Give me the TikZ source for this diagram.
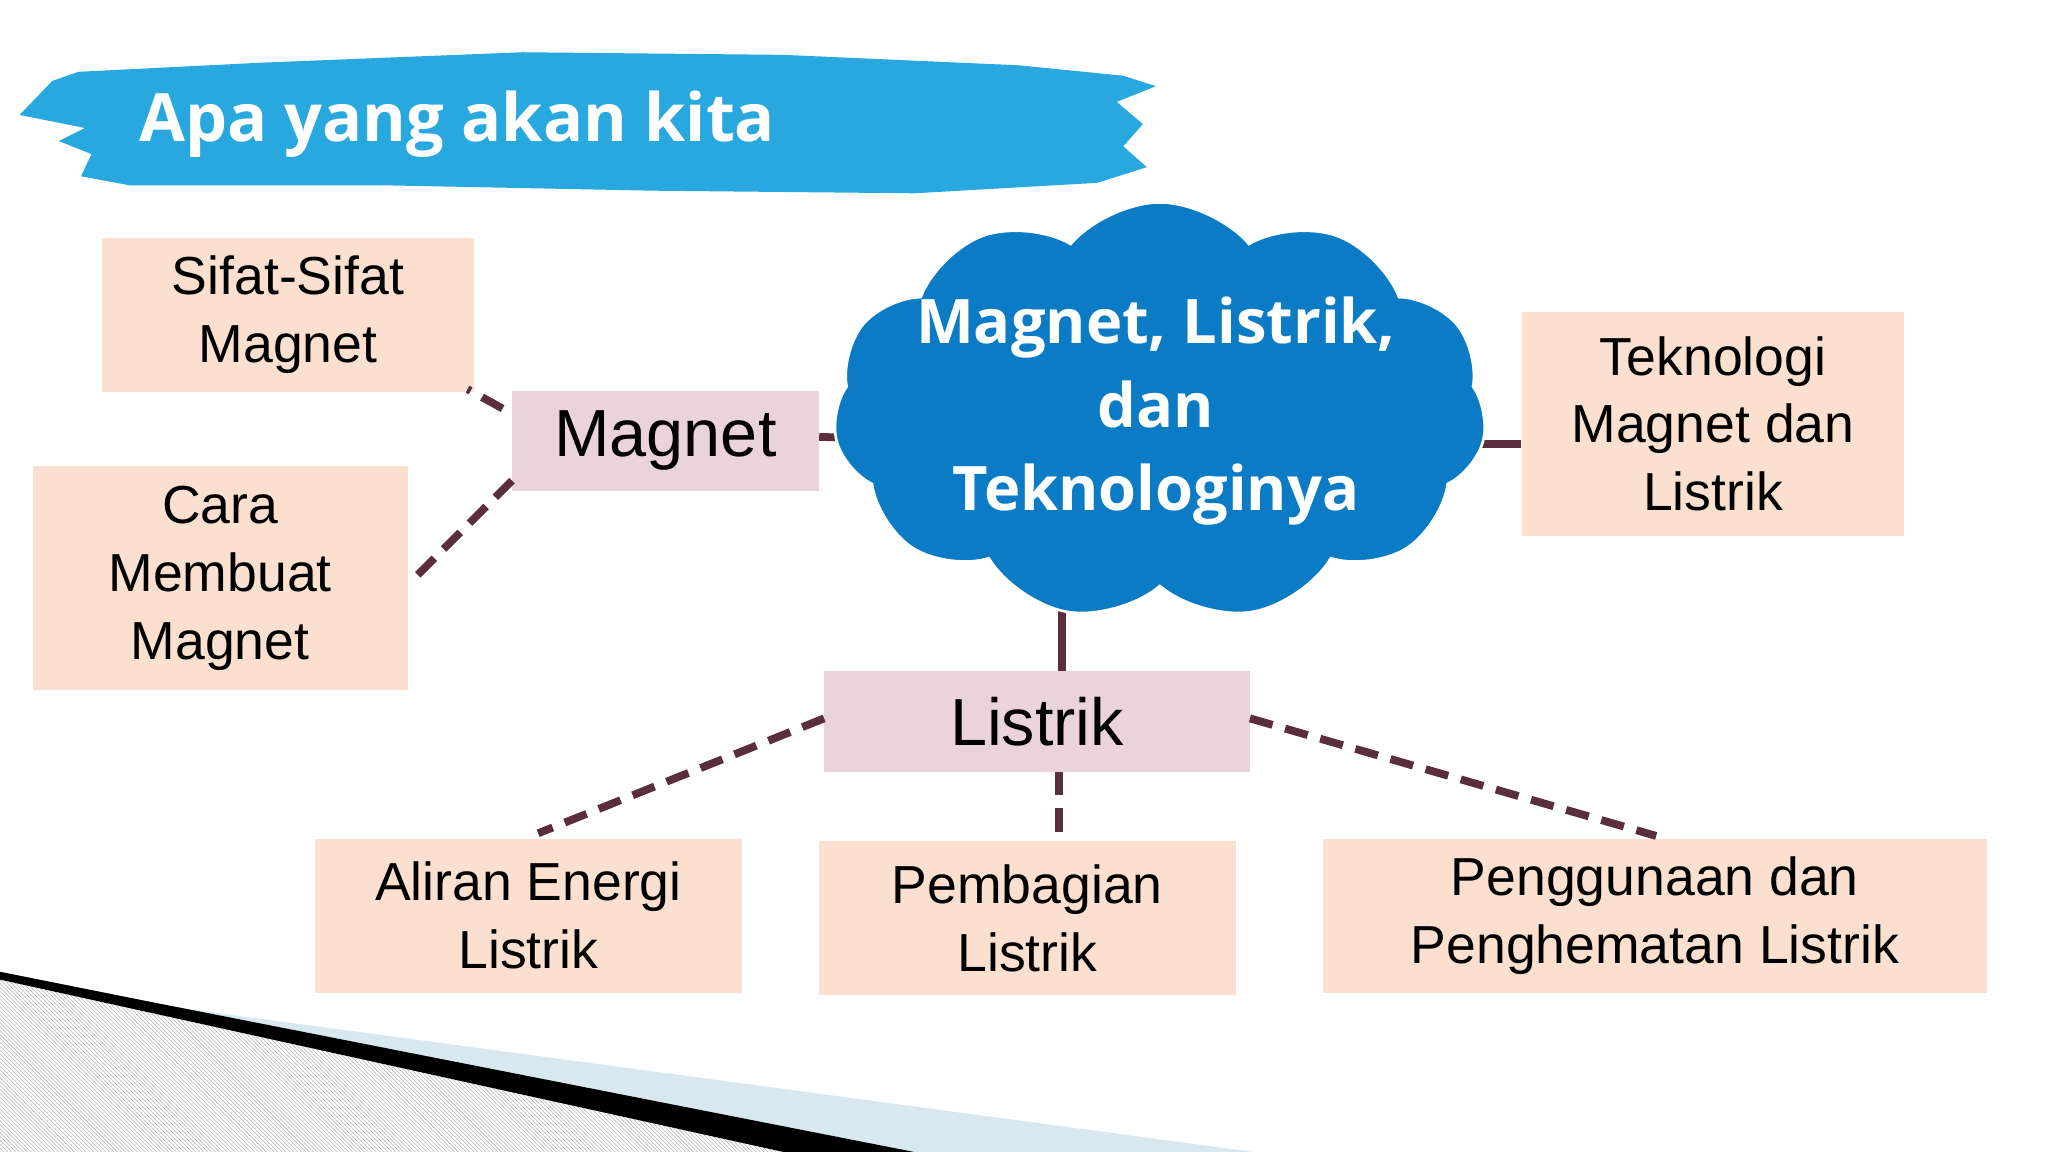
\documentclass[tikz,border=0pt]{standalone}
\usepackage{fontspec}
\setmainfont{Liberation Sans}
\newfontfamily\boldf{Open Sans}
\usetikzlibrary{shapes.symbols,patterns}
\definecolor{peach}{HTML}{FBE0CF}
\definecolor{pinkb}{HTML}{EAD3DA}
\definecolor{conn}{HTML}{5A2E3E}
\definecolor{brush}{HTML}{29A8E0}
\definecolor{cloudb}{HTML}{0A7BC4}
\definecolor{band}{HTML}{D8E8F0}
\begin{document}
\begin{tikzpicture}[x=1pt,y=-1pt,
  pbox/.style={fill=peach,inner sep=0pt,align=center,font=\fontsize{41}{52}\selectfont},
  kbox/.style={fill=pinkb,inner sep=0pt,align=center,font=\fontsize{51}{58}\selectfont},
  ln/.style={draw=conn,line width=6pt},
  dl/.style={ln,dash pattern=on 18pt off 10pt}]
\useasboundingbox (0,0) rectangle (1568,882);
\fill[white] (0,0) rectangle (1568,882);
% bottom-left decoration
\fill[pattern=north west lines,pattern color=gray!60] (0,748) -- (600,882) -- (0,882) -- cycle;
\fill[band] (110,768) -- (960,882) -- (690,882) -- cycle;
\fill[black] (0,744) -- (110,766) -- (700,882) -- (600,882) -- (0,750) -- cycle;
% brush banner
\fill[brush] (15,88) -- (40,62) -- (60,55) -- (200,48) -- (400,40) -- (600,42) -- (780,50) -- (860,58) -- (885,66) -- (855,78) -- (875,95) -- (860,112) -- (878,128) -- (840,140) -- (700,148) -- (500,146) -- (300,142) -- (100,142) -- (62,135) -- (70,118) -- (45,108) -- (65,98) -- cycle;
\node[anchor=west,text=white,font=\boldf\bfseries\fontsize{51}{55}\selectfont] (title) at (103,95) {Apa yang akan kita};
% boxes
\node[pbox,minimum width=285pt,minimum height=118pt] (sifat) at (220.5,241) {Sifat-Sifat\\Magnet};
\node[pbox,minimum width=287pt,minimum height=171pt] (cara) at (168.5,442.5) {Cara\\Membuat\\Magnet};
\node[kbox,minimum width=235pt,minimum height=77pt] (magnet) at (509.5,337.5) {Magnet};
\node[pbox,minimum width=293pt,minimum height=171pt] (tek) at (1311.5,324.5) {Teknologi\\Magnet dan\\Listrik};
\node[kbox,minimum width=326pt,minimum height=77pt] (listrik) at (794,552.5) {Listrik};
\node[pbox,minimum width=327pt,minimum height=118pt] (aliran) at (404.5,701) {Aliran Energi\\Listrik};
\node[pbox,minimum width=319pt,minimum height=118pt] (pemb) at (786.5,703) {Pembagian\\Listrik};
\node[pbox,minimum width=508pt,minimum height=118pt] (peng) at (1267,701) {Penggunaan dan\\Penghematan Listrik};
% connectors
\coordinate (cL) at (645,335);
\coordinate (cR) at (1125,340);
\coordinate (cB) at (813,460);
\draw[ln] (magnet.east) ++(0,-3) -- (cL);
\draw[ln] (cR) -- (tek.west |- cR);
\draw[ln] (cB) -- (listrik.north -| cB);
\draw[dl] (magnet.north west) ++(-7,14) -- (358,298);
\draw[dl] (392,368) -- (315,445);
\draw[dl] (811,591) -- (811,644);
\draw[dl] (631,550) -- (412,638);
\draw[dl] (957,550) -- (1268,640);
% cloud
\node[cloud,cloud puffs=11,cloud puff arc=100,aspect=1.6,fill=cloudb,draw=white,line width=2pt,minimum width=500pt,minimum height=320pt,inner sep=0pt] (cloud) at (888,315) {};
\node[text=white,align=center,font=\boldf\bfseries\fontsize{47}{64}\selectfont] (ctext) at (885,315) {Magnet, Listrik,\\dan\\Teknologinya};
\end{tikzpicture}
\end{document}
